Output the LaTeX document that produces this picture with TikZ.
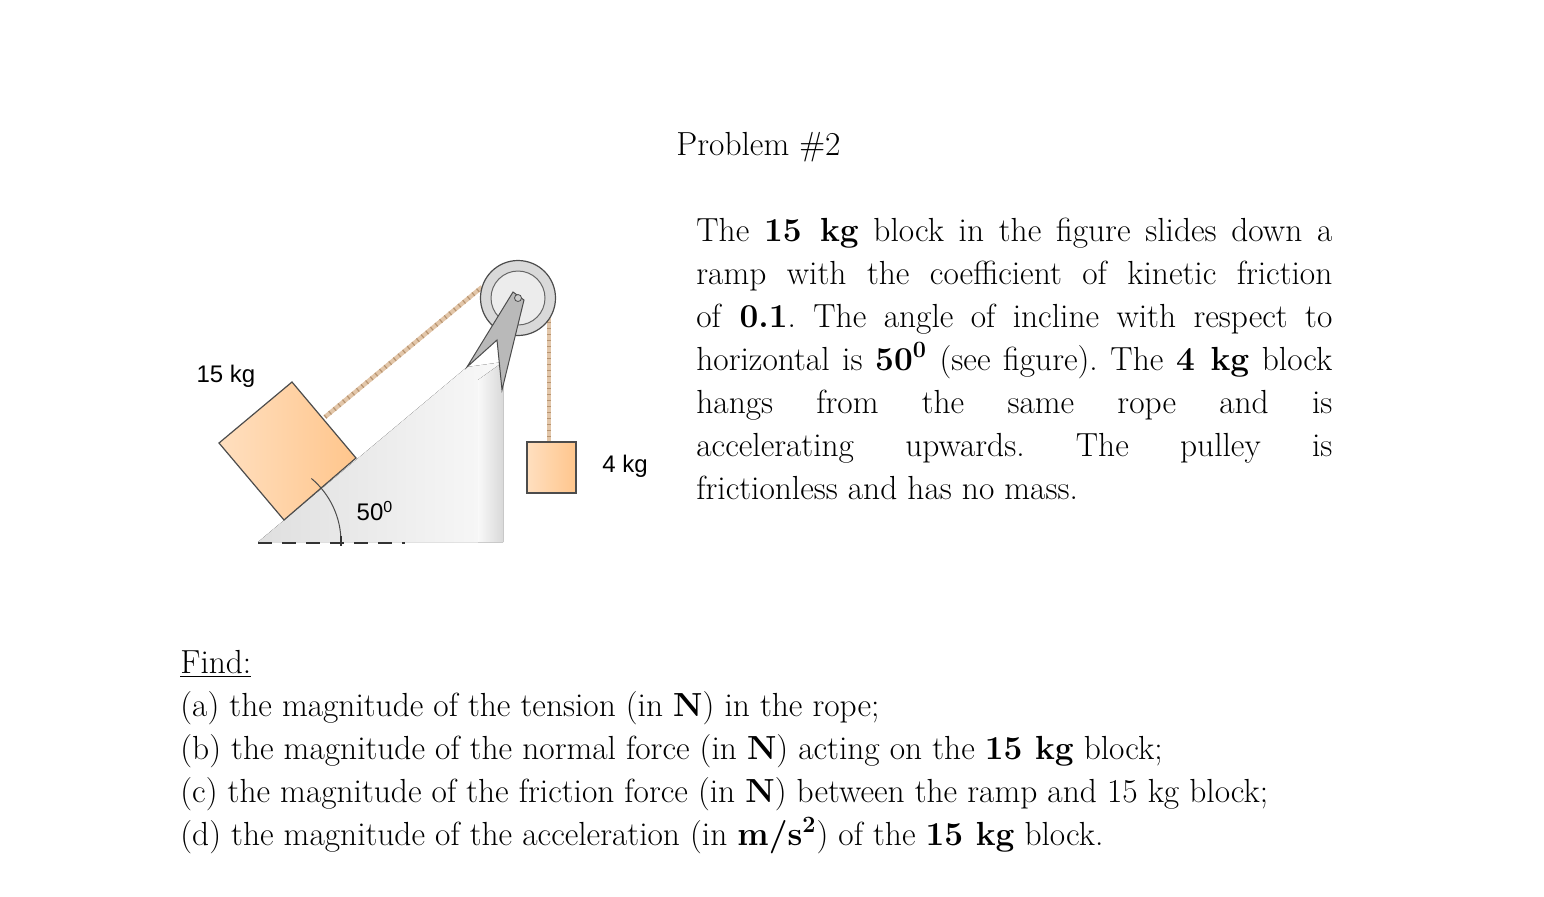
\documentclass[tikz,border=0pt]{standalone}
\usepackage{fontspec}
\newfontfamily\sansf{Liberation Sans}
\frenchspacing
\begin{document}
\begin{tikzpicture}[x=0.5pt,y=-0.5pt,
  body/.style={anchor=base west,inner sep=0pt,font=\fontsize{16.7}{19}\selectfont},
  lab/.style={inner sep=0pt,font=\sansf\fontsize{12}{14}\selectfont},
  blockf/.style={draw=black!70,line width=0.6pt,left color=orange!25!white,right color=orange!45!white},
  rope/.style={line width=2.2pt,draw=brown!45!white},
  ropeb/.style={line width=2.2pt,draw=brown!80!black!70,dash pattern=on 0.6pt off 2.4pt}]
\useasboundingbox (0,0) rectangle (1544,896);
% ramp
\fill[left color=gray!25,right color=gray!5] (258,542) -- (467,367) -- (503,362) -- (503,542) -- cycle;
\fill[left color=gray!5,right color=gray!30] (478,380) -- (503,362) -- (503,542) -- (478,542) -- cycle;
% ropes
\coordinate (rl1) at (325,417); \coordinate (rl2) at (482,287);
\coordinate (rr1) at (549,298); \coordinate (rr2) at (549,442);
\draw[rope] (rl1) -- (rl2); \draw[ropeb] (rl1) -- (rl2);
\draw[rope] (rr1) -- (rr2); \draw[ropeb] (rr1) -- (rr2);
% pulley
\node[circle,draw=black!70,fill=gray!30,minimum size=37.5pt,line width=0.6pt] (pul) at (518,298) {};
\node[circle,draw=black!60,fill=gray!15,minimum size=27pt,line width=0.5pt] at (pul) {};
\fill[gray!55,draw=black!70,line width=0.5pt] (513,292) -- (467,367) -- (497,340) -- (502,390) -- (524,300) -- cycle;
\node[circle,draw=black!70,fill=gray!40,minimum size=3.5pt,inner sep=0pt] at (pul) {};
% blocks
\draw[blockf] (219,443) -- (292,382) -- (356,458) -- (284,520) -- cycle;
\node[blockf,minimum width=24.5pt,minimum height=25.5pt,inner sep=0pt] (b4) at (551.5,467.5) {};
% angle
\draw[black!70,line width=0.5pt] (341,542) arc (0:-50:83);
\draw[black!80,line width=0.8pt,dash pattern=on 7pt off 5pt] (258,543) -- (405,543);
\draw[black!80,line width=0.6pt] (341,536) -- (341,546);
\node[lab] (l15) at (226,376) {15 kg};
\node[lab] (l4) at (625,466) {4 kg};
\node[lab] (l50) at (375,511) {50\textsuperscript{0}};
% text
\node[body] (prob) at (676,155) {Problem \#2};
\foreach \t [count=\i] in {
 {The \textbf{15 kg} block in the figure slides down a},
 {ramp with the coefficient of kinetic friction},
 {of \textbf{0.1}. The angle of incline with respect to},
 {horizontal is \textbf{50\textsuperscript{0}} (see figure). The \textbf{4 kg} block},
 {hangs from the same rope and is},
 {accelerating upwards. The pulley is}}
 \node[body] (p\i) at (696,{198+43*\i}) {\makebox[318pt][s]{\t}};
\node[body] (p7) at (696,499) {frictionless and has no mass.};
\node[body] (f0) at (180,673) {\underline{Find:}};
\node[body] (f1) at (180,716) {(a) the magnitude of the tension (in \textbf{N}) in the rope;};
\node[body] (f2) at (180,759) {(b) the magnitude of the normal force (in \textbf{N}) acting on the \textbf{15 kg} block;};
\node[body] (f3) at (180,802) {(c) the magnitude of the friction force (in \textbf{N}) between the ramp and 15 kg block;};
\node[body] (f4) at (180,845) {(d) the magnitude of the acceleration (in \textbf{m/s\textsuperscript{2}}) of the \textbf{15 kg} block.};
\end{tikzpicture}
\end{document}
